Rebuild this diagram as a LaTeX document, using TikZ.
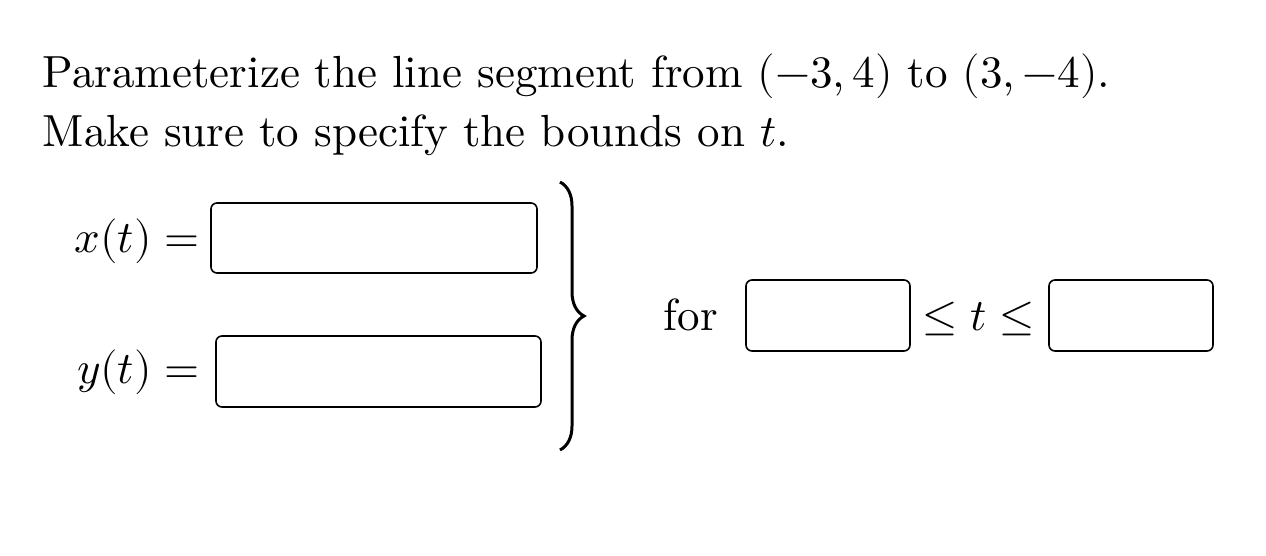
\documentclass[tikz,border=0pt]{standalone}
\usepackage{unicode-math}
\setmathfont{Latin Modern Math}
\usetikzlibrary{decorations.pathreplacing}
\begin{document}
\begin{tikzpicture}[x=1pt,y=-1pt,
  txt/.style={anchor=base west,inner sep=0pt,font=\fontsize{10}{12}\selectfont,scale=4.5,transform shape},
  ansbox/.style={draw,line width=1.6pt,rounded corners=6pt}]
\useasboundingbox (0,0) rectangle (1266,556);
\node[txt] (l1) at (42,88) {Parameterize the line segment from $(-3,4)$ to $(3,-4)$.};
\node[txt] (l2) at (42,147) {Make sure to specify the bounds on $t$.};
\node[txt,anchor=base east] (xl) at (200,252) {$x(t)=$};
\node[txt,anchor=base east] (yl) at (200,383) {$y(t)=$};
\draw[ansbox] (211,203) rectangle (537,273);
\draw[ansbox] (216,336) rectangle (541,407);
\coordinate (bt) at (560,182);
\coordinate (bb) at (560,450);
\draw[line width=3pt,decorate,decoration={brace,amplitude=24pt}] (bt) -- (bb);
\node[txt] (for) at (663,330) {for};
\draw[ansbox] (746,280) rectangle (910,351);
\node[txt] (ineq) at (922,330) {$\le t\le$};
\draw[ansbox] (1049,280) rectangle (1213,351);
\end{tikzpicture}
\end{document}
